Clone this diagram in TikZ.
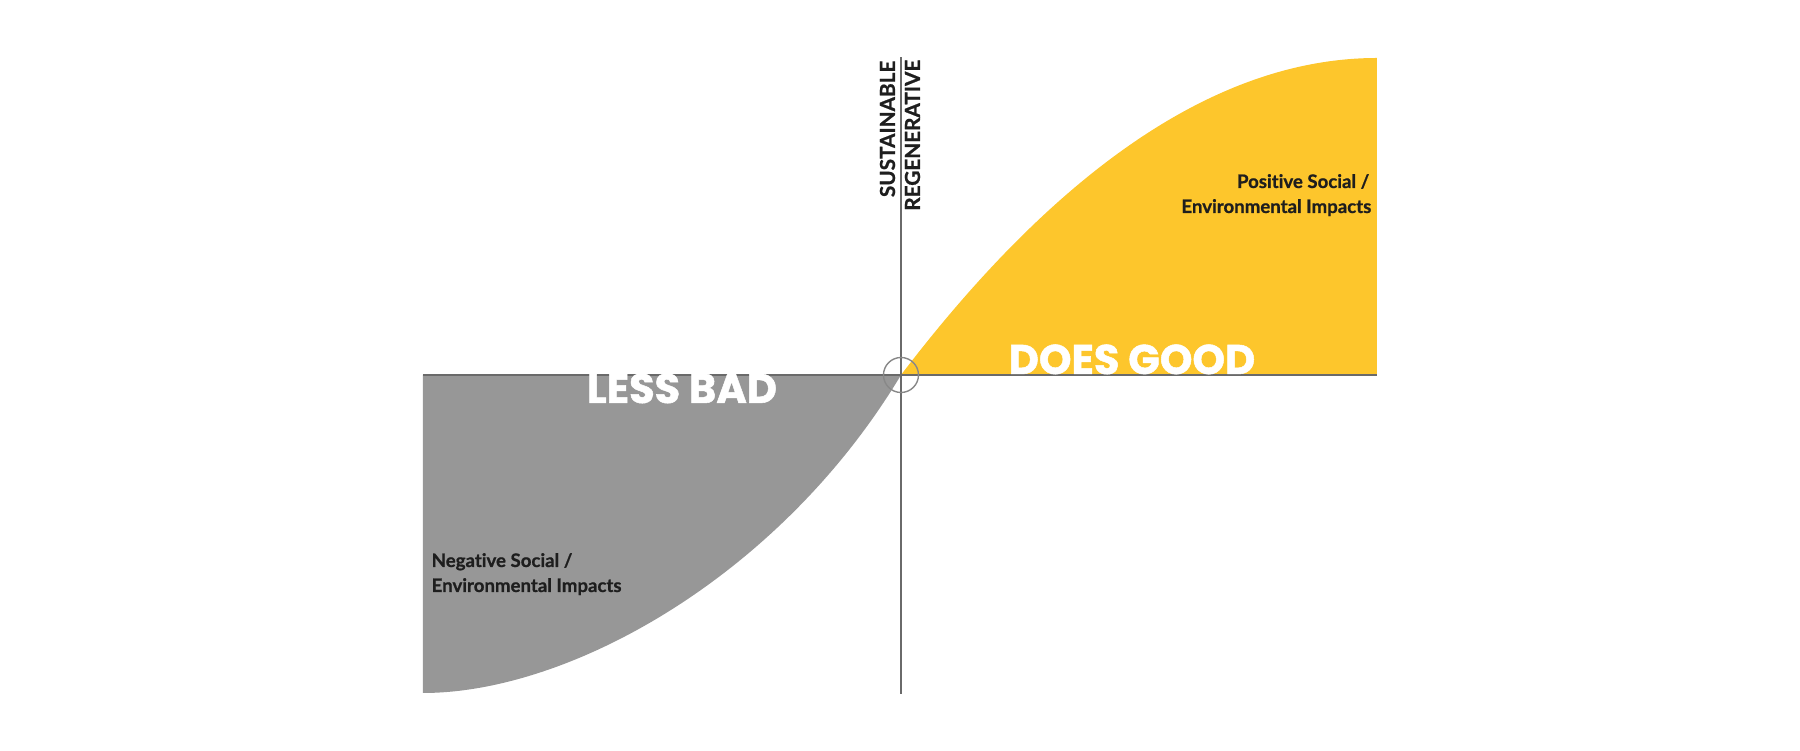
\documentclass[tikz,border=0pt]{standalone}
\usepackage{fontspec}
\newfontfamily\headfont{Poppins}[BoldFeatures={FakeBold=1.2}]
\newfontfamily\labelfont{Lato}[Ligatures=NoCommon,BoldFeatures={FakeBold=0.8}]
\definecolor{goodyellow}{HTML}{FDC62C}
\definecolor{badgrey}{HTML}{979797}
\definecolor{axisgrey}{HTML}{6A6A6A}
\definecolor{labelblack}{HTML}{1E1E1E}

\begin{document}
\begin{tikzpicture}[
  axis/.style={line width=0.6pt,axisgrey},
  headlabel/.style={font=\headfont\bfseries\fontsize{11.8}{12}\selectfont,text=white,inner sep=0pt,anchor=base},
  impactlabel/.style={font=\labelfont\bfseries\fontsize{5.3}{6}\selectfont,text=labelblack,inner sep=0pt},
  axislabel/.style={font=\labelfont\bfseries\fontsize{5.9}{6}\selectfont,text=labelblack,inner sep=0pt,rotate=90,anchor=base east}]
\useasboundingbox (-9.01,-3.76) rectangle (8.99,3.75);
% the two regions
\fill[goodyellow] (0,0) .. controls (1.6,2.1) and (3.2,3.17) .. (4.76,3.17) -- (4.76,0) -- cycle;
\fill[badgrey] (0,0) .. controls (-1.2,-2.0) and (-3.3,-3.18) .. (-4.78,-3.18) -- (-4.78,0) -- cycle;
% axes
\coordinate (left) at (-4.78,0);
\coordinate (right) at (4.76,0);
\coordinate (top) at (0,3.18);
\coordinate (bottom) at (0,-3.19);
\draw[axis] (left) -- (right);
\draw[axis] (bottom) -- (top);
\node[circle,draw=axisgrey!80,line width=0.4pt,minimum size=0.35cm,inner sep=0pt] (origin) at (0,0) {};
% axis labels
\node[axislabel] (sustainable) at (-0.06,3.15) {SUSTAINABLE};
\node[axislabel] (regenerative) at (0.19,3.16) {REGENERATIVE};
% region labels
\node[headlabel] (lessbad) at (-2.19,-0.28) {LESS BAD};
\node[headlabel] (doesgood) at (2.31,0.01) {DOES GOOD};
\node[impactlabel,anchor=base east] (positive1) at (4.69,1.87) {Positive Social /};
\node[impactlabel,anchor=base east] (positive2) at (4.71,1.62) {Environmental Impacts};
\node[impactlabel,anchor=base west] (negative1) at (-4.70,-1.92) {Negative Social /};
\node[impactlabel,anchor=base west] (negative2) at (-4.70,-2.17) {Environmental Impacts};
\end{tikzpicture}
\end{document}
